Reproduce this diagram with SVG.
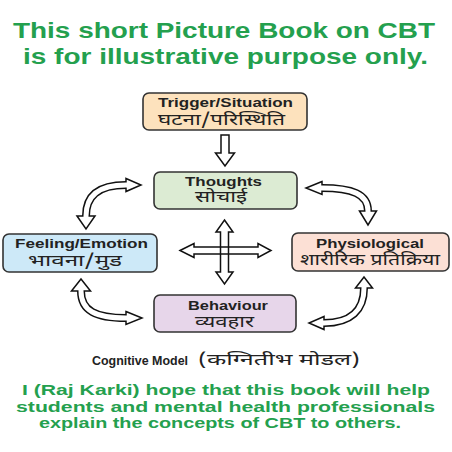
<svg xmlns="http://www.w3.org/2000/svg" width="452" height="452" viewBox="0 0 452 452">
<style>
.title{font-family:"Liberation Sans",Arial,sans-serif;font-weight:bold;fill:#24a04e}
.en{font-family:"Liberation Sans",Arial,sans-serif;font-weight:bold;font-size:13.5px;fill:#222}
.hi{font-family:"Noto Sans Devanagari","Noto Sans","Lohit Devanagari",sans-serif;font-size:16px;fill:#222}
.box{stroke:#333;stroke-width:1.6}
.outer{fill:none;stroke:#111;stroke-width:8;stroke-linecap:butt}
.inner{fill:none;stroke:#fff;stroke-width:5;stroke-linecap:butt}
.head{fill:#fff;stroke:#111;stroke-width:1.5;stroke-linejoin:miter}
.fillw{fill:#fff;stroke:none}
.line{fill:none;stroke:#111;stroke-width:1.5;stroke-linejoin:miter}
</style>
<rect width="452" height="452" fill="#fff"/>
<g id="title">
<text class="title" x="13" y="38" font-size="22" textLength="422" lengthAdjust="spacingAndGlyphs">This short Picture Book on CBT</text>
<text class="title" x="23" y="64" font-size="22" textLength="405" lengthAdjust="spacingAndGlyphs">is for illustrative purpose only.</text>
</g>
<g id="connectors">
<polygon class="head" points="221,135 229,135 229,153 234.5,153 225,166 215.5,153 221,153"/>
<polygon class="fillw" points="224.5,220 233,232 228.5,232 228.5,272 233,272 224.5,284 216,272 220.5,272 220.5,232 216,232"/>
<polygon class="fillw" points="180,250.5 194,243.5 194,247 258,247 258,243.5 271,250.5 258,257.5 258,254 194,254 194,257.5"/>
<polygon class="line" points="224.5,220 233,232 228.5,232 228.5,272 233,272 224.5,284 216,272 220.5,272 220.5,232 216,232"/>
<polygon class="line" points="180,250.5 194,243.5 194,247 258,247 258,243.5 271,250.5 258,257.5 258,254 194,254 194,257.5"/>
<path class="outer" d="M86 216 C86 197 97 185 126 185"/>
<path class="outer" d="M322 188 C352 188 368 194 368 211"/>
<path class="outer" d="M81 291 C81 311 96 318 126 318"/>
<path class="outer" d="M364 288 C364 310 351 323 324 323"/>
<polygon class="head" points="77,216 86,229 95,216"/>
<polygon class="head" points="126,178.5 141,185 126,191.5"/>
<polygon class="head" points="322,181.5 306,188 322,194.5"/>
<polygon class="head" points="359.5,211 368,225 376.5,211"/>
<polygon class="head" points="71.5,291 81,279 90.5,291"/>
<polygon class="head" points="126,311.5 142,318 126,324.5"/>
<polygon class="head" points="355.5,288 364,277 372.5,288"/>
<polygon class="head" points="324,316.5 309,323 324,329.5"/>
<path class="inner" d="M86 218 L86 216 C86 197 97 185 126 185 L128 185"/>
<path class="inner" d="M320 188 L322 188 C352 188 368 194 368 211 L368 213"/>
<path class="inner" d="M81 289 L81 291 C81 311 96 318 126 318 L128 318"/>
<path class="inner" d="M364 286 L364 288 C364 310 351 323 324 323 L322 323"/>
</g>
<g id="node-trigger">
<rect class="box" x="143" y="93" width="164" height="37" rx="6" fill="#fde2bd"/>
<text class="en" x="158" y="106.5" textLength="135" lengthAdjust="spacingAndGlyphs">Trigger/Situation</text>
<text class="hi" x="158" y="124.5" textLength="127" lengthAdjust="spacingAndGlyphs">घटना/परिस्थिति</text>
</g>
<g id="node-thoughts">
<rect class="box" x="154" y="172" width="143" height="37" rx="6" fill="#dcebd3"/>
<text class="en" x="185" y="185.5" textLength="77" lengthAdjust="spacingAndGlyphs">Thoughts</text>
<text class="hi" x="195" y="202" textLength="52" lengthAdjust="spacingAndGlyphs">सोचाई</text>
</g>
<g id="node-feeling">
<rect class="box" x="3" y="234" width="154" height="38" rx="6" fill="#cde9f8"/>
<text class="en" x="15" y="248" textLength="133" lengthAdjust="spacingAndGlyphs">Feeling/Emotion</text>
<text class="hi" x="28" y="265.5" textLength="94" lengthAdjust="spacingAndGlyphs">भावना/मुड</text>
</g>
<g id="node-physiological">
<rect class="box" x="292" y="233" width="157" height="38" rx="6" fill="#fce0d5"/>
<text class="en" x="316" y="247.5" textLength="108" lengthAdjust="spacingAndGlyphs">Physiological</text>
<text class="hi" x="300" y="264.5" textLength="140" lengthAdjust="spacingAndGlyphs">शारीरिक प्रतिक्रिया</text>
</g>
<g id="node-behaviour">
<rect class="box" x="154" y="295" width="142" height="37" rx="6" fill="#e7d6ea"/>
<text class="en" x="188" y="309.5" textLength="80" lengthAdjust="spacingAndGlyphs">Behaviour</text>
<text class="hi" x="195" y="326.5" textLength="59" lengthAdjust="spacingAndGlyphs">व्यवहार</text>
</g>
<g id="caption">
<text class="en" x="92" y="365" font-size="13" textLength="96" lengthAdjust="spacingAndGlyphs">Cognitive Model</text>
<text class="hi" x="198" y="365" font-size="13.5" textLength="162" lengthAdjust="spacingAndGlyphs">(कग्नितीभ मोडल)</text>
</g>
<g id="footer">
<text class="title" x="22" y="394.5" font-size="15.5" textLength="408" lengthAdjust="spacingAndGlyphs">I (Raj Karki) hope that this book will help</text>
<text class="title" x="16" y="411.5" font-size="15.5" textLength="419" lengthAdjust="spacingAndGlyphs">students and mental health professionals</text>
<text class="title" x="39" y="428" font-size="15.5" textLength="362" lengthAdjust="spacingAndGlyphs">explain the concepts of CBT to others.</text>
</g>
</svg>
